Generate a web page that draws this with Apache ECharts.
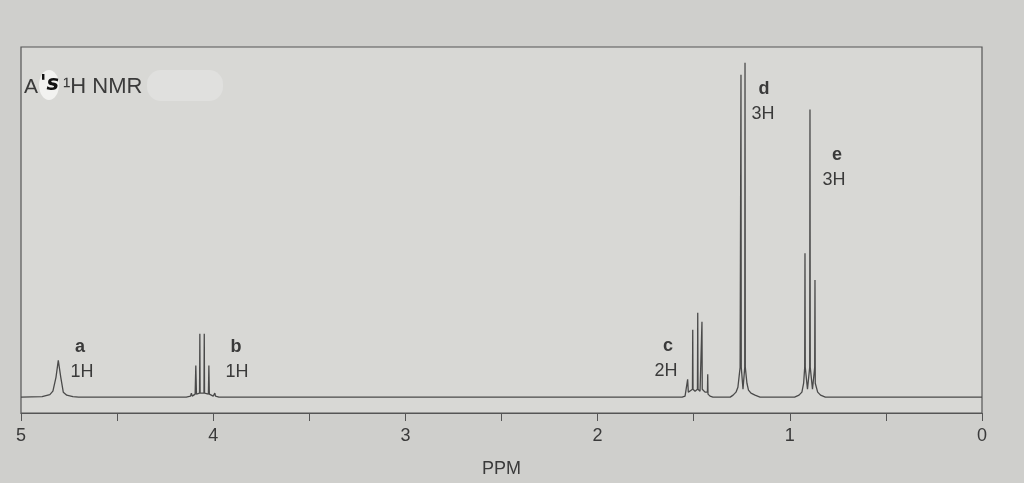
<!DOCTYPE html>
<html>
<head>
<meta charset="utf-8">
<script src="https://cdn.jsdelivr.net/npm/echarts@6/dist/echarts.min.js"></script>
<style>
html,body{margin:0;padding:0;background:#cfcfcc;}
#c{width:1024px;height:483px;}
</style>
</head>
<body>
<div id="c"></div>
<script>
// ---- data ----
// x axis: chemical shift (ppm), reversed, 5 -> 0
const axisMin = 0;
const axisMax = 5;
const tickLabels = ['0', '1', '2', '3', '4', '5'];
// spectrum trace: [ppm, intensity above baseline]
const peakA = [[5.00,0],[4.89,0.5],[4.85,2.5],[4.834,6],[4.818,20],[4.806,37],[4.793,20],[4.780,5],[4.762,2],[4.73,0.5],[4.70,0]];
const peakB = [[4.14,0],[4.118,1],[4.1135,4],[4.109,1],[4.094,3],[4.0905,32],[4.087,3],[4.080,4],[4.071,4],[4.0695,64],[4.068,4],[4.058,4],[4.048,4],[4.0465,64],[4.045,4],[4.035,4],[4.025,3],[4.0225,32],[4.020,3],[4.000,1],[3.9915,4],[3.988,1],[3.97,0]];
const peakC = [[1.560,0],[1.545,1],[1.535,3],[1.5315,18],[1.528,5],[1.519,5],[1.5065,8],[1.505,68],[1.5035,8],[1.493,6],[1.4805,8],[1.479,85],[1.4775,8],[1.467,6],[1.4585,8],[1.457,76],[1.4555,8],[1.441,5],[1.4285,5],[1.427,23],[1.4255,3],[1.415,1],[1.400,0]];
const peakD = [[1.310,0],[1.295,2],[1.280,5],[1.270,10],[1.2585,30],[1.254,325],[1.2525,30],[1.2435,8],[1.2345,30],[1.233,337],[1.2315,30],[1.223,14],[1.215,7],[1.202,4],[1.181,2],[1.155,0]];
const peakE = [[0.975,0],[0.952,2],[0.937,5],[0.928,14],[0.9225,30],[0.921,145],[0.9195,30],[0.908,8],[0.8965,30],[0.895,290],[0.8935,30],[0.882,8],[0.8705,30],[0.869,118],[0.8675,14],[0.855,5],[0.840,2],[0.815,0]];
const tail = [[0.00,0]];
const peakLetters = ['a', 'b', 'c', 'd', 'e'];
const peakProtons = ['1H', '1H', '2H', '3H', '3H'];
const titleA = 'A';
const titleS = "'s";
const titleRest = '\u00b9H NMR';
const axisName = 'PPM';

// ---- layout ----
const labelPos = [[80,347,82,372],[236,347,237,372],[668,346,666,371],[764,89,763,114],[837,155,834,180]];
const spectrum = [].concat(peakA, peakB, peakC, peakD, peakE, tail);

const chart = echarts.init(document.getElementById('c'), null, {renderer:'canvas'});
const txtColor = '#3a3a3a';
const ff = 'Liberation Sans, Arial, sans-serif';
const graphics = [
  {type:'ellipse', shape:{cx:49, cy:85, rx:10, ry:15}, style:{fill:'#f2f2f0'}, z:1},
  {type:'rect', shape:{x:147, y:70, width:76, height:31, r:14}, style:{fill:'#e0e0de'}, z:1},
  {type:'text', x:24, y:87, z:5, style:{text:titleA, fill:txtColor, font:'21px ' + ff, textVerticalAlign:'middle'}},
  {type:'text', x:40, y:85, z:5, style:{text:titleS, fill:'#111', font:'bold italic 21px DejaVu Sans', textVerticalAlign:'middle'}},
  {type:'text', x:63, y:87, z:5, style:{text:titleRest, fill:txtColor, font:'22px ' + ff, textVerticalAlign:'middle'}}
];
peakLetters.forEach((l, i) => {
  const p = labelPos[i];
  graphics.push({type:'text', x:p[0], y:p[1], z:5, style:{text:l, fill:txtColor, font:'bold 18px ' + ff, textAlign:'center', textVerticalAlign:'middle'}});
  graphics.push({type:'text', x:p[2], y:p[3], z:5, style:{text:peakProtons[i], fill:txtColor, font:'18px ' + ff, textAlign:'center', textVerticalAlign:'middle'}});
});

chart.setOption({
  animation:false,
  backgroundColor:'#cfcfcc',
  grid:{left:21, right:42, top:47, bottom:67, show:true, borderColor:'#555', borderWidth:1.2, backgroundColor:'#d8d8d5'},
  xAxis:{
    type:'value', inverse:true, min:axisMin, max:axisMax, interval:0.5,
    name:axisName, nameLocation:'middle', nameGap:47,
    nameTextStyle:{fontSize:18, color:txtColor, fontFamily:ff},
    axisLine:{show:true, onZero:false, lineStyle:{color:'#555', width:1.2}},
    axisTick:{show:true, inside:false, length:8, lineStyle:{color:'#555', width:1}},
    axisLabel:{
      margin:14, fontSize:18, color:txtColor, fontFamily:ff,
      formatter:function(v){ const s = String(v); return tickLabels.indexOf(s) >= 0 ? s : ''; }
    },
    splitLine:{show:false}
  },
  yAxis:{type:'value', min:-16, max:353, show:false, splitLine:{show:false}},
  series:[{
    type:'line', data:spectrum, showSymbol:false, symbol:'none',
    lineStyle:{color:'#4a4a4a', width:1.3}, z:3
  }],
  graphic:graphics
});
</script>
</body>
</html>
